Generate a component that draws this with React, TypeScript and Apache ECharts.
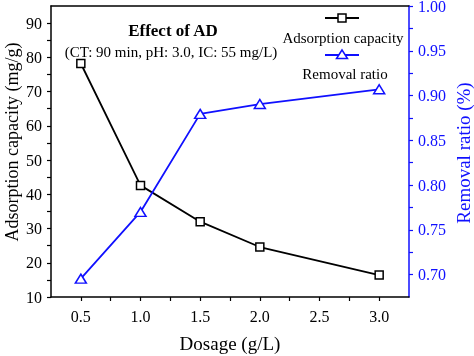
import React, { useEffect, useRef } from "react";
import * as echarts from "echarts";

const dosage = [0.5, 1.0, 1.5, 2.0, 3.0];
const adsorptionCapacity = [78.2, 42.6, 32.0, 24.6, 16.4];
const removalRatio = [0.6955, 0.770, 0.8795, 0.8905, 0.907];

const xMajor = [0.5, 1.0, 1.5, 2.0, 2.5, 3.0];
const xTicks = [0.5, 0.75, 1.0, 1.25, 1.5, 1.75, 2.0, 2.25, 2.5, 2.75, 3.0];
const leftMajor = [10, 20, 30, 40, 50, 60, 70, 80, 90];
const leftTicks = [10, 15, 20, 25, 30, 35, 40, 45, 50, 55, 60, 65, 70, 75, 80, 85, 90];
const rightMajor = [0.7, 0.75, 0.8, 0.85, 0.9, 0.95, 1.0];
const rightTicks = [0.7, 0.725, 0.75, 0.775, 0.8, 0.825, 0.85, 0.875, 0.9, 0.925, 0.95, 0.975, 1.0];

const FONT = "Liberation Serif";
const BLUE = "#1010ff";

export default function App() {
  const ref = useRef<HTMLDivElement>(null);
  useEffect(() => {
    if (!ref.current) return;
    const chart = echarts.init(ref.current, null, { renderer: "svg" });
    const legendX = 342;
    chart.setOption({
      animation: false,
      textStyle: { fontFamily: FONT },
      title: [
        {
          text: "Effect of AD",
          left: 168,
          textAlign: "center",
          top: 17,
          textStyle: { fontFamily: FONT, fontSize: 17, fontWeight: "bold", color: "#000" },
        },
        {
          text: "(CT: 90 min, pH: 3.0, IC: 55 mg/L)",
          left: 166,
          textAlign: "center",
          top: 39,
          textStyle: { fontFamily: FONT, fontSize: 15, fontWeight: "normal", color: "#000" },
        },
      ],
      grid: { left: 51, right: 65, top: 6, bottom: 59, containLabel: false, outerBoundsMode: "none" },
      xAxis: [
        {
          type: "value",
          min: 0.25,
          max: 3.25,
          position: "bottom",
          name: "Dosage (g/L)",
          nameLocation: "middle",
          nameGap: 37,
          nameTextStyle: { fontFamily: FONT, fontSize: 19, color: "#000" },
          axisLine: { show: true, lineStyle: { color: "#000", width: 1.5 } },
          axisTick: { show: true, inside: false, length: 4, customValues: xTicks, lineStyle: { color: "#000", width: 1.2 } },
          axisLabel: {
            customValues: xMajor,
            fontFamily: FONT,
            fontSize: 16,
            color: "#000",
            margin: 11,
            formatter: (v: number) => v.toFixed(1),
          },
          splitLine: { show: false },
        },
        {
          type: "value",
          min: 0.25,
          max: 3.25,
          position: "top",
          axisLine: { show: true, lineStyle: { color: "#000", width: 1.5 } },
          axisTick: { show: false },
          axisLabel: { show: false },
          splitLine: { show: false },
        },
      ],
      yAxis: [
        {
          type: "value",
          min: 10,
          max: 95,
          position: "left",
          axisLine: { show: true, lineStyle: { color: "#000", width: 1.5 } },
          axisTick: { show: true, inside: false, length: 4, customValues: leftTicks, lineStyle: { color: "#000", width: 1.2 } },
          axisLabel: { customValues: leftMajor, fontFamily: FONT, fontSize: 16, color: "#000", margin: 9 },
          splitLine: { show: false },
        },
        {
          type: "value",
          min: 0.675,
          max: 1.0,
          position: "right",
          axisLine: { show: true, lineStyle: { color: BLUE, width: 1.5 } },
          axisTick: { show: true, inside: false, length: 4, customValues: rightTicks, lineStyle: { color: BLUE, width: 1.2 } },
          axisLabel: {
            customValues: rightMajor,
            fontFamily: FONT,
            fontSize: 16,
            color: BLUE,
            margin: 9,
            formatter: (v: number) => v.toFixed(2),
          },
          splitLine: { show: false },
        },
      ],
      series: [
        {
          name: "Adsorption capacity",
          type: "line",
          xAxisIndex: 0,
          yAxisIndex: 0,
          data: dosage.map((d, i) => [d, adsorptionCapacity[i]]),
          symbol: "rect",
          symbolSize: 8,
          lineStyle: { color: "#000", width: 1.8 },
          itemStyle: { color: "#fff", borderColor: "#000", borderWidth: 1.5 },
          z: 3,
        },
        {
          name: "Removal ratio",
          type: "line",
          xAxisIndex: 0,
          yAxisIndex: 1,
          data: dosage.map((d, i) => [d, removalRatio[i]]),
          symbol: "triangle",
          symbolSize: [11, 9],
          lineStyle: { color: BLUE, width: 1.8 },
          itemStyle: { color: "#fff", borderColor: BLUE, borderWidth: 1.5 },
          z: 3,
        },
      ],
      graphic: [
        {
          type: "text",
          x: 12,
          y: 142,
          rotation: Math.PI / 2,
          style: { text: "Adsorption capacity (mg/g)", font: `18px "${FONT}"`, fill: "#000", align: "center", verticalAlign: "middle" },
        },
        {
          type: "text",
          x: 463,
          y: 153,
          rotation: Math.PI / 2,
          style: { text: "Removal ratio (%)", font: `19px "${FONT}"`, fill: BLUE, align: "center", verticalAlign: "middle" },
        },
        { type: "line", shape: { x1: legendX - 17, y1: 18, x2: legendX + 17, y2: 18 }, style: { stroke: "#000", lineWidth: 1.8 } },
        { type: "rect", shape: { x: legendX - 4, y: 14, width: 8, height: 8 }, style: { fill: "#fff", stroke: "#000", lineWidth: 1.5 } },
        {
          type: "text",
          x: legendX + 1,
          y: 38,
          style: { text: "Adsorption capacity", font: `15px "${FONT}"`, fill: "#000", align: "center", verticalAlign: "middle" },
        },
        { type: "line", shape: { x1: legendX - 17, y1: 55, x2: legendX + 17, y2: 55 }, style: { stroke: BLUE, lineWidth: 1.8 } },
        {
          type: "polygon",
          shape: { points: [[legendX, 50], [legendX + 5.5, 58.5], [legendX - 5.5, 58.5]] },
          style: { fill: "#fff", stroke: BLUE, lineWidth: 1.5 },
        },
        {
          type: "text",
          x: legendX + 3,
          y: 74,
          style: { text: "Removal ratio", font: `15px "${FONT}"`, fill: "#000", align: "center", verticalAlign: "middle" },
        },
      ],
    });
    return () => chart.dispose();
  }, []);
  return <div ref={ref} style={{ position: "fixed", left: 0, top: 0, width: 474, height: 356 }} />;
}
